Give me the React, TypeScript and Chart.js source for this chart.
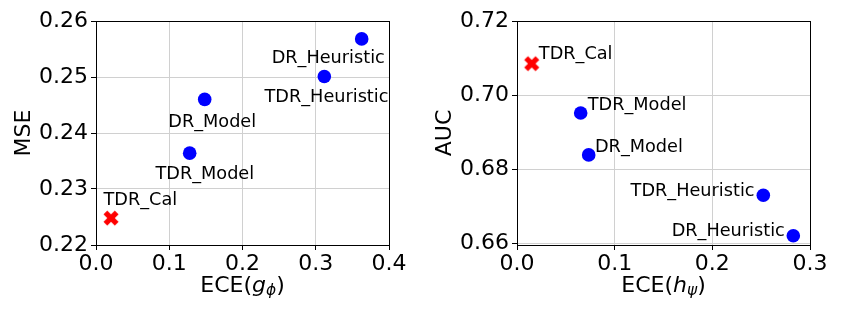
import React, { useEffect, useRef } from 'react';
import { Chart, registerables } from 'chart.js';

Chart.register(...registerables);

// ---------- data ----------
const leftMethods = ['DR_Heuristic', 'TDR_Heuristic', 'DR_Model', 'TDR_Model', 'TDR_Cal'];
const leftEceG = [0.3627, 0.3117, 0.1484, 0.1279, 0.0205];
const leftMse = [0.2568, 0.2501, 0.246, 0.2364, 0.2248];

const rightMethods = ['TDR_Cal', 'TDR_Model', 'DR_Model', 'TDR_Heuristic', 'DR_Heuristic'];
const rightEceH = [0.0151, 0.0652, 0.0734, 0.2522, 0.2829];
const rightAuc = [0.7085, 0.6952, 0.6839, 0.673, 0.6621];

const leftXTicks = [0, 0.1, 0.2, 0.3, 0.4];
const leftYTicks = [0.22, 0.23, 0.24, 0.25, 0.26];
const rightXTicks = [0, 0.1, 0.2, 0.3];
const rightYTicks = [0.66, 0.68, 0.7, 0.72];

const highlighted = 'TDR_Cal';

// ---------- styles ----------
const FONT = '"DejaVu Sans", sans-serif';
const GRID = '#d0d0d0';
const BLUE = '#0000ff';
const RED = '#ff0000';

type Off = { align: CanvasTextAlign; dx: number; dy: number };
const leftLabelOffsets: Record<string, Off> = {
  DR_Heuristic: { align: 'left', dx: -90, dy: 23.7 },
  TDR_Heuristic: { align: 'left', dx: -59.8, dy: 25.4 },
  DR_Model: { align: 'left', dx: -36.4, dy: 27.4 },
  TDR_Model: { align: 'left', dx: -34.2, dy: 26.3 },
  TDR_Cal: { align: 'left', dx: -7.5, dy: -13 },
};
const rightLabelOffsets: Record<string, Off> = {
  TDR_Cal: { align: 'left', dx: 7.1, dy: -5 },
  TDR_Model: { align: 'left', dx: 7.1, dy: -3 },
  DR_Model: { align: 'left', dx: 6.3, dy: -3 },
  TDR_Heuristic: { align: 'right', dx: -8.8, dy: 0.3 },
  DR_Heuristic: { align: 'right', dx: -8.5, dy: 0.7 },
};

type Part = { t: string; italic?: boolean; sub?: boolean };
const leftXTitle: Part[] = [{ t: 'ECE(' }, { t: 'g', italic: true }, { t: 'ϕ', italic: true, sub: true }, { t: ')' }];
const rightXTitle: Part[] = [{ t: 'ECE(' }, { t: 'h', italic: true }, { t: 'ψ', italic: true, sub: true }, { t: ')' }];

function makeXMarker(size: number, color: string) {
  const c = document.createElement('canvas');
  const dim = Math.ceil(size) + 2;
  c.width = dim;
  c.height = dim;
  const g = c.getContext('2d')!;
  const pts = [[-1, -3], [1, -3], [1, -1], [3, -1], [3, 1], [1, 1], [1, 3], [-1, 3], [-1, 1], [-3, 1], [-3, -1], [-1, -1]];
  const s = size / 6;
  g.translate(dim / 2, dim / 2);
  g.rotate(Math.PI / 4);
  g.beginPath();
  pts.forEach(([x, y], i) => (i ? g.lineTo(x * s, y * s) : g.moveTo(x * s, y * s)));
  g.closePath();
  g.fillStyle = color;
  g.fill();
  return c;
}

function buildConfig(opts: {
  names: string[];
  xs: number[];
  ys: number[];
  xTicks: number[];
  yTicks: number[];
  xMin: number;
  xMax: number;
  yMin: number;
  yMax: number;
  yTitle: string;
  xTitle: Part[];
  offsets: Record<string, Off>;
  xDec: number;
  yDec: number;
  xMarker: HTMLCanvasElement;
}): any {
  const { names, xs, ys, offsets, xTitle } = opts;
  const blue = names.map((n, i) => ({ n, x: xs[i], y: ys[i] })).filter((p) => p.n !== highlighted).map(({ x, y }) => ({ x, y }));
  const red = names.map((n, i) => ({ n, x: xs[i], y: ys[i] })).filter((p) => p.n === highlighted).map(({ x, y }) => ({ x, y }));

  const decor = {
    id: 'decor',
    afterDatasetsDraw(chart: any) {
      const ctx = chart.ctx as CanvasRenderingContext2D;
      const sx = chart.scales.x;
      const sy = chart.scales.y;
      ctx.save();
      ctx.font = `17.7px ${FONT}`;
      ctx.fillStyle = '#000';
      ctx.textBaseline = 'alphabetic';
      names.forEach((n, i) => {
        const o = offsets[n];
        const px = sx.getPixelForValue(xs[i]);
        const py = sy.getPixelForValue(ys[i]);
        ctx.textAlign = o.align;
        ctx.fillText(n, px + o.dx, py + o.dy);
      });
      ctx.restore();
    },
    afterDraw(chart: any) {
      const ctx = chart.ctx as CanvasRenderingContext2D;
      const a = chart.chartArea;
      ctx.save();
      ctx.strokeStyle = '#000';
      ctx.lineWidth = 1;
      ctx.strokeRect(Math.round(a.left) + 0.5, Math.round(a.top) + 0.5, Math.round(a.right) - Math.round(a.left), Math.round(a.bottom) - Math.round(a.top));
      // x title with math parts
      const fontFor = (p: Part) => `${p.italic ? 'italic ' : ''}${p.sub ? 15.4 : 22}px ${FONT}`;
      let total = 0;
      const widths = xTitle.map((p) => {
        ctx.font = fontFor(p);
        const w = ctx.measureText(p.t).width;
        total += w;
        return w;
      });
      let x = (a.left + a.right) / 2 - total / 2;
      const base = 292.3;
      ctx.fillStyle = '#000';
      ctx.textAlign = 'left';
      ctx.textBaseline = 'alphabetic';
      xTitle.forEach((p, i) => {
        ctx.font = fontFor(p);
        ctx.fillText(p.t, x, base + (p.sub ? 3 : 0));
        x += widths[i];
      });
      ctx.restore();
    },
  };

  const tickFont = { family: FONT, size: 22 };

  return {
    type: 'scatter',
    data: {
      datasets: [
        { data: blue, backgroundColor: BLUE, borderColor: BLUE, borderWidth: 0, pointRadius: 6.8, pointStyle: 'circle' },
        { data: red, backgroundColor: RED, borderColor: RED, borderWidth: 0, pointStyle: opts.xMarker, pointRadius: 8 },
      ],
    },
    options: {
      animation: false,
      responsive: false,
      devicePixelRatio: 1,
      events: [],
      layout: { padding: { left: 0, right: 32, top: 21, bottom: 0 } },
      plugins: { legend: { display: false }, tooltip: { enabled: false } },
      scales: {
        x: {
          type: 'linear',
          min: opts.xMin,
          max: opts.xMax,
          afterBuildTicks: (s: any) => {
            s.ticks = opts.xTicks.map((v) => ({ value: v }));
          },
          afterFit: (s: any) => {
            s.height = 69;
          },
          grid: { color: GRID, lineWidth: 1, tickColor: '#000', tickLength: 5, drawTicks: true },
          border: { display: false },
          ticks: {
            font: tickFont,
            color: '#000',
            padding: 1,
            maxRotation: 0,
            autoSkip: false,
            callback: (v: any) => Number(v).toFixed(opts.xDec),
          },
        },
        y: {
          type: 'linear',
          min: opts.yMin,
          max: opts.yMax,
          afterBuildTicks: (s: any) => {
            s.ticks = opts.yTicks.map((v) => ({ value: v }));
          },
          afterFit: (s: any) => {
            s.width = 96;
          },
          grid: { color: GRID, lineWidth: 1, tickColor: '#000', tickLength: 5, drawTicks: true },
          border: { display: false },
          ticks: {
            font: tickFont,
            color: '#000',
            padding: 3,
            autoSkip: false,
            callback: (v: any) => Number(v).toFixed(opts.yDec),
          },
          title: {
            display: true,
            text: opts.yTitle,
            color: '#000',
            font: { family: FONT, size: 22 },
            padding: { top: 11, bottom: 0 },
          },
        },
      },
    },
    plugins: [decor],
  };
}

export default function App() {
  const leftRef = useRef<HTMLCanvasElement>(null);
  const rightRef = useRef<HTMLCanvasElement>(null);

  useEffect(() => {
    const xMarker = makeXMarker(16, RED);
    const left = new Chart(
      leftRef.current!,
      buildConfig({
        names: leftMethods,
        xs: leftEceG,
        ys: leftMse,
        xTicks: leftXTicks,
        yTicks: leftYTicks,
        xMin: 0,
        xMax: 0.4,
        yMin: 0.22,
        yMax: 0.26,
        yTitle: 'MSE',
        xTitle: leftXTitle,
        offsets: leftLabelOffsets,
        xDec: 1,
        yDec: 2,
        xMarker,
      })
    );
    const right = new Chart(
      rightRef.current!,
      buildConfig({
        names: rightMethods,
        xs: rightEceH,
        ys: rightAuc,
        xTicks: rightXTicks,
        yTicks: rightYTicks,
        xMin: 0,
        xMax: 0.3,
        yMin: 0.6596,
        yMax: 0.72,
        yTitle: 'AUC',
        xTitle: rightXTitle,
        offsets: rightLabelOffsets,
        xDec: 1,
        yDec: 2,
        xMarker,
      })
    );
    return () => {
      left.destroy();
      right.destroy();
    };
  }, []);

  return (
    <div style={{ position: 'absolute', left: 0, top: 0, width: 842, height: 314, display: 'flex', background: '#fff' }}>
      <canvas ref={leftRef} width={421} height={314} style={{ display: 'block', width: 421, height: 314 }} />
      <canvas ref={rightRef} width={421} height={314} style={{ display: 'block', width: 421, height: 314 }} />
    </div>
  );
}
